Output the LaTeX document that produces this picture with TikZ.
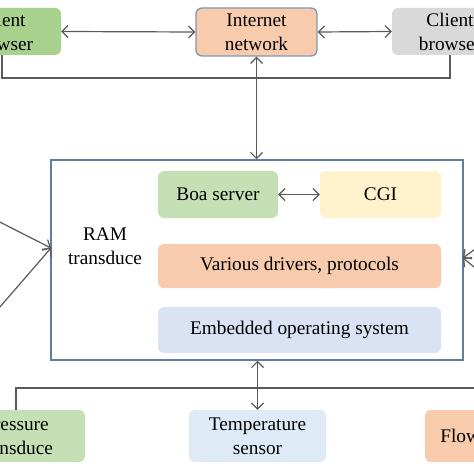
\documentclass[tikz,border=0pt]{standalone}
\usepackage{fontspec}
\setmainfont{Liberation Serif}
\usetikzlibrary{arrows.meta}
\definecolor{lnc}{HTML}{5A5A5A}
\definecolor{mainb}{HTML}{5F7F9E}
\definecolor{gDark}{HTML}{A9D18E}
\definecolor{gLight}{HTML}{C5E0B4}
\definecolor{orng}{HTML}{F8CBAD}
\definecolor{gry}{HTML}{D9D9D9}
\definecolor{ylw}{HTML}{FFF2CC}
\definecolor{blu}{HTML}{DAE3F3}
\definecolor{bluL}{HTML}{DEEBF7}
\definecolor{inetb}{HTML}{8497B0}
\begin{document}
\begin{tikzpicture}[x=1bp,y=-1bp,
  every node/.style={font=\fontsize{19.3bp}{24bp}\selectfont, inner sep=0pt, align=center},
  blk/.style={rounded corners=6bp, minimum width=#1},
  conn/.style={draw=lnc, line width=1.2bp},
  dbl/.style={conn, {Straight Barb[length=6bp,width=12bp]}-{Straight Barb[length=6bp,width=12bp]}},
  sgl/.style={conn, -{Straight Barb[length=6bp,width=12bp]}}]
\useasboundingbox (0,0) rectangle (474,474);
\clip (0,0) rectangle (474,474);
\fill[white] (0,0) rectangle (474,474);
% top row
\node[blk=118bp, minimum height=47bp, fill=gDark] (c1) at (2,31.5) {Client\\browser};
\node[blk=121bp, minimum height=48bp, fill=orng, draw=inetb, line width=1.3bp] (inet) at (256.5,32) {Internet\\network};
\node[blk=116bp, minimum height=47bp, fill=gry] (c2) at (450,31.5) {Client\\browser};
% main box
\node[draw=mainb, line width=1.5bp, minimum width=412bp, minimum height=200bp] (main) at (257,260) {};
\node (ram) at (105,246.5) {RAM\\transduce};
\node[blk=120bp, minimum height=47bp, fill=gLight] (boa) at (218,194.5) {Boa server};
\node[blk=121bp, minimum height=47bp, fill=ylw] (cgi) at (380.5,194.5) {CGI};
\node[blk=283bp, minimum height=44bp, fill=orng] (drv) at (299.5,266) {Various drivers, protocols};
\node[blk=283bp, minimum height=46bp, fill=blu] (eos) at (299.5,330) {Embedded operating system};
% bottom row
\node[blk=138bp, minimum height=52bp, fill=gLight] (press) at (16,436) {Pressure\\transduce};
\node[blk=137bp, minimum height=52bp, fill=bluL] (temp) at (257.5,436) {Temperature\\sensor};
\node[blk=119bp, minimum height=52bp, fill=orng] (flow) at (484.5,436) {Flow meter};
% connectors
\draw[dbl] (c1.east) -- (inet.west);
\draw[dbl] (inet.east) -- (c2.west);
\draw[conn] (c1.south) -- (c1.south |- 0,78) -| (c2.south);
\draw[dbl] (inet.south) -- (inet.south |- main.north);
\draw[dbl] (boa.east) -- (cgi.west);
\draw[dbl] (temp.north |- main.south) -- (temp.north);
\draw[conn] (press.north) -- (press.north |- 0,388) -| (flow.north);
\coordinate (inL) at (51,248);
\coordinate (l1) at (-20,212);
\coordinate (l2) at (-20,330);
\draw[sgl] (l1) -- (inL);
\draw[sgl] (l2) -- (inL);
\coordinate (inR) at (463,258);
\coordinate (r1) at (490,238);
\coordinate (r2) at (490,280);
\draw[sgl] (r1) -- (inR);
\draw[sgl] (r2) -- (inR);
\end{tikzpicture}
\end{document}
